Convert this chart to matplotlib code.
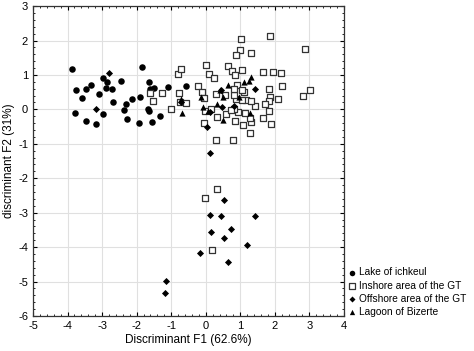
import matplotlib
matplotlib.use("Agg")
import matplotlib.pyplot as plt
from matplotlib.ticker import MultipleLocator

# Lake of ichkeul (filled circles)
lake_x = [-3.88, -3.75, -3.77, -3.58, -3.47, -3.33, -3.46, -3.17, -3.10, -2.97, -2.96, -2.85,
          -2.88, -2.72, -2.67, -2.38, -2.32, -2.46, -2.27, -2.12, -1.93, -1.89, -1.84, -1.63,
          -1.67, -1.65, -1.61, -1.49, -1.55, -1.31, -1.10, -0.56]
lake_y = [1.16, 0.57, -0.11, 0.33, 0.59, 0.71, -0.35, -0.42, 0.45, -0.14, 0.92, 0.80,
          0.63, 0.58, 0.20, -0.01, 0.16, 0.82, -0.28, 0.30, -0.40, 0.36, 1.23, 0.80,
          0.01, -0.05, 0.59, 0.61, -0.36, -0.19, 0.65, 0.67]

# Inshore area of the GT (open squares)
inshore_x = [-1.62, -1.52, -1.27, -1.00, -0.79, -0.71, -0.77, -0.75, -0.58, -0.21, -0.12,
             1.03, 1.87, 2.88, 1.00, 0.88, 1.30, 0.01, 0.63, 0.10, 0.77, 0.85, 1.06, 0.25,
             1.67, 1.96, 2.18, 2.20, 1.82, 3.03, 2.81, 2.10, 1.87, 1.84, 1.72, 1.84, 1.67,
             1.88, 1.27, 0.79, 0.29, -0.04, 0.33, 0.60, 0.86, 1.07, 1.31, 1.28, 1.13, 0.92,
             0.81, 0.73, -0.02, 0.14, 1.42, 1.17, 1.30, 1.05, 0.88, 0.81, 0.30, 0.55, 1.12,
             0.90, 0.82, 1.05, -0.06, 0.34, -0.01, 0.17]
inshore_y = [0.47, 0.25, 0.47, 0.00, 1.02, 1.18, 0.49, 0.20, 0.19, 0.67, 0.50,
             2.04, 2.13, 1.75, 1.71, 1.57, 1.65, 1.29, 1.27, 1.04, 1.11, 1.00, 1.13, 0.90,
             1.09, 1.08, 1.06, 0.68, 0.60, 0.57, 0.39, 0.30, 0.36, 0.25, 0.16, -0.05, -0.24,
             -0.43, -0.70, -0.89, -0.89, -0.40, -0.22, -0.14, -0.33, -0.46, -0.36, -0.24, -0.11, -0.09,
             0.01, -0.03, -0.06, 0.00, 0.11, 0.26, 0.23, 0.28, 0.29, 0.43, 0.45, 0.43, 0.50,
             0.70, 0.58, 0.57, 0.32, -2.32, -2.57, -4.08]

# Offshore area of the GT (filled diamonds)
offshore_x = [-3.18, -2.80, -0.72, 0.03, 0.11, 0.11, 0.45, 0.46, 0.81, 1.42,
              0.54, 0.11, 0.45, 0.72, 0.16, 0.54, -0.17, 0.65, -1.15, -1.17, 1.43, 1.20]
offshore_y = [0.02, 1.05, 0.22, -0.52, -1.27, -0.07, 0.57, 0.06, 0.09, 0.59,
              -2.64, -3.07, -3.10, -3.48, -3.56, -3.74, -4.16, -4.44, -4.99, -5.32, -3.09, -3.93]

# Lagoon of Bizerte (filled triangles)
lagoon_x = [-0.71, -0.69, -0.13, -0.08, 0.07, 0.34, 0.40, 0.50, 0.51, 0.65, 0.95, 1.10, 1.26, 1.31, 1.29]
lagoon_y = [0.29, -0.10, 0.35, 0.07, -0.06, 0.15, 0.55, 0.36, -0.32, 0.71, 0.35, 0.79, 0.81, 0.93, -0.10]

labels = ["Lake of ichkeul", "Inshore area of the GT", "Offshore area of the GT", "Lagoon of Bizerte"]

plt.rcParams['font.family'] = ['Liberation Sans', 'DejaVu Sans']
plt.rcParams['axes.unicode_minus'] = False
fig = plt.figure(figsize=(4.74, 3.51), dpi=100)
ax = fig.add_axes([0.0696, 0.0997, 0.656, 0.883])

ax.scatter(lake_x, lake_y, marker='o', s=22, c='black', linewidths=0, label=labels[0], zorder=3)
ax.scatter(inshore_x, inshore_y, marker='s', s=19, facecolors='white', edgecolors='#333333',
           linewidths=0.9, label=labels[1], zorder=3)
ax.scatter(offshore_x, offshore_y, marker='D', s=13, c='black', linewidths=0, label=labels[2], zorder=4)
ax.scatter(lagoon_x, lagoon_y, marker='^', s=20, c='black', linewidths=0, label=labels[3], zorder=4)

ax.set_xlim(-5, 4)
ax.set_ylim(-6, 3)
ax.xaxis.set_major_locator(MultipleLocator(1))
ax.yaxis.set_major_locator(MultipleLocator(1))
ax.xaxis.set_minor_locator(MultipleLocator(0.2))
ax.yaxis.set_minor_locator(MultipleLocator(0.2))
ax.tick_params(which='both', direction='in', top=True, right=True, labelsize=8)
ax.tick_params(which='major', length=3, width=0.8)
ax.tick_params(which='minor', length=1.5, width=0.6)
ax.grid(True, which='major', color='#e0e0e0', linewidth=0.8, zorder=0)
ax.set_axisbelow(True)
for sp in ax.spines.values():
    sp.set_linewidth(0.9)
    sp.set_color('#333333')

ax.set_xlabel("Discriminant F1 (62.6%)", fontsize=8.5, labelpad=2)
ax.set_ylabel("discriminant F2 (31%)", fontsize=8.5, labelpad=2)

fig.legend(loc='lower left', bbox_to_anchor=(0.733, 0.098), frameon=False, fontsize=7.3,
           handletextpad=0.2, labelspacing=0.3, borderaxespad=0, handlelength=0.9,
           borderpad=0, markerscale=0.85)

fig.savefig("out.png", dpi=100)
